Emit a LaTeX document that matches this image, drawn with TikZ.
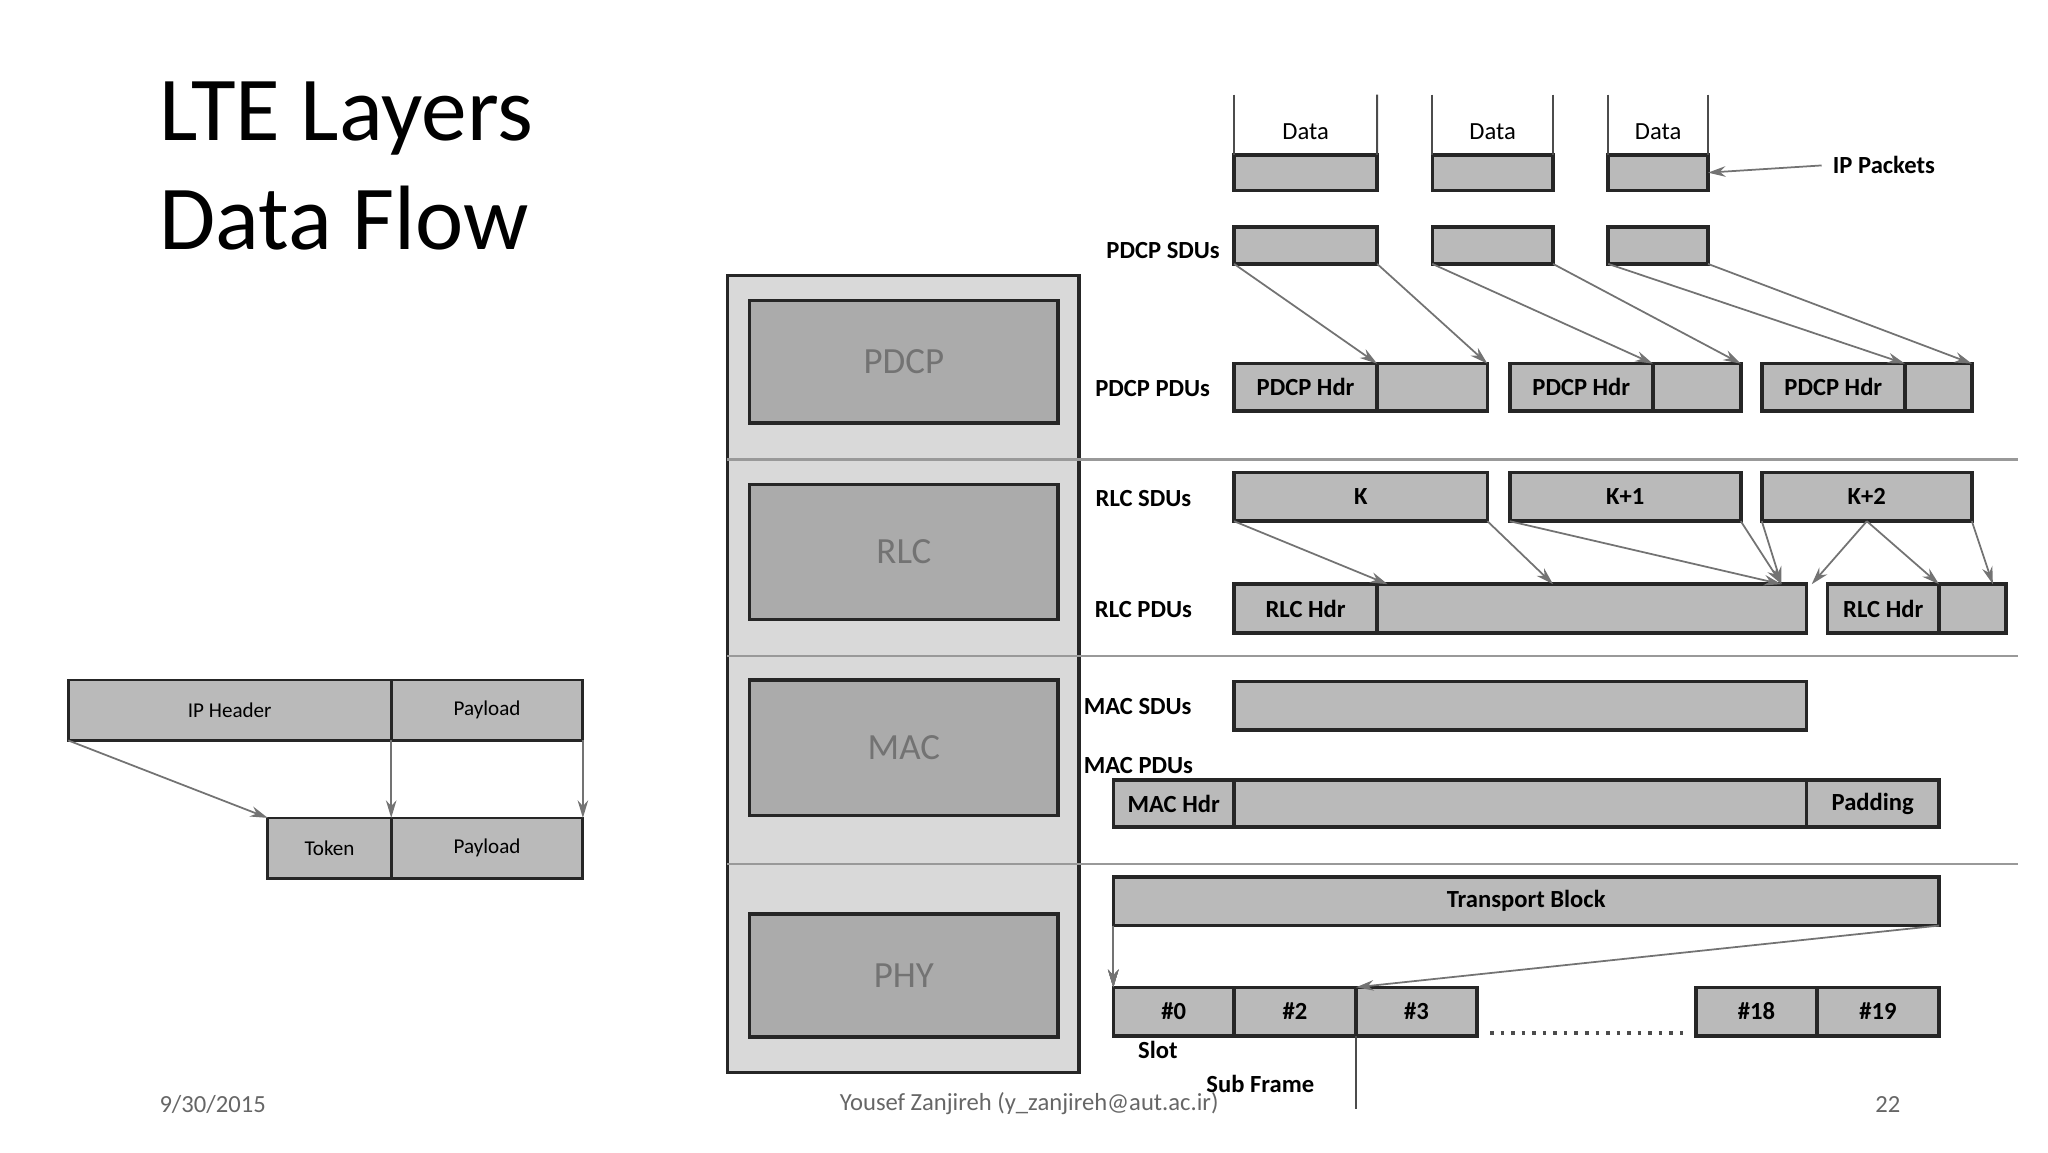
\documentclass[tikz,border=0pt]{standalone}
\usepackage{fontspec}
\setmainfont{Carlito}
\usetikzlibrary{arrows.meta}
\newcommand\un{0.013128cm}
\tikzset{
 box/.style={draw=black!85,line width=1pt,fill=black!27,inner sep=0pt,outer sep=0pt,anchor=north west,font=\fontsize{7}{8}\selectfont\bfseries},
 layer/.style={box,fill=black!33,font=\fontsize{10.5}{12}\selectfont,text=black!55},
 flow/.style={-{Stealth[length=5pt,width=3pt]},draw=black!55,line width=0.5pt},
 tie/.style={draw=black!70,line width=0.6pt},
 lbl/.style={font=\fontsize{7}{8}\selectfont\bfseries,inner sep=0pt},
 foot/.style={font=\fontsize{7}{8}\selectfont,text=black!60,inner sep=0pt},
}
% named block: name, x1, y1, x2, y2, text
\newcommand\blk[6]{\node[box,minimum width={(#4-#2)*\un},minimum height={(#5-#3)*\un}] (#1) at (#2,#3) {#6};}
\begin{document}
\begin{tikzpicture}[x=\un,y=-\un]
\useasboundingbox (0,0) rectangle (1560,877.5);

\node[anchor=north west,inner sep=0pt,align=left,font=\fontsize{26}{31}\selectfont] (title) at (121,62) {LTE Layers\\Data Flow};

% left: token
\begin{scope}[box/.append style={line width=0.8pt,font=\fontsize{6}{7}\selectfont}]
\blk{iphdr}{52}{518}{298}{564}{IP Header}
\blk{pay}{298}{518}{444}{564}{Payload}
\blk{tok}{204}{623}{298}{669}{Token}
\blk{paytwo}{298}{623}{444}{669}{Payload}
\end{scope}
\draw[flow] (iphdr.south west) -- (tok.north west);
\draw[flow] (pay.south west) -- (paytwo.north west);
\draw[flow] (pay.south east) -- (paytwo.north east);

% layer stack
\node[box,fill=black!15,minimum width={268*\un},minimum height={607*\un}] (stack) at (554,210) {};
\foreach \N/\Y/\H in {PDCP/229/93,RLC/369/103,MAC/518/103,PHY/696/94}
 \node[layer,minimum width={235*\un},minimum height={\H*\un}] (\N) at (571,\Y) {\N};
\foreach \Y in {350,500,658}
 \draw[draw=black!40,line width=0.6pt] (554,\Y) -- (1537,\Y);

% IP packets and PDCP SDUs
\foreach \I/\A/\B in {1/940/1049,2/1091/1183,3/1225/1301}{
 \blk{ip\I}{\A}{118}{\B}{145}{}
 \blk{sdu\I}{\A}{173}{\B}{201}{}
 \draw[tie] (\A,72) -- (ip\I.north west);
 \draw[tie] (\B,72) -- (ip\I.north east);
 \node[lbl,font=\fontsize{7}{8}\selectfont] (data\I) at ({(\A+\B)/2},100) {Data};
}
\node[lbl] (ippk) at (1435,126) {IP Packets};
\draw[flow] (ippk.west) ++(-8,0) -- (ip3.east);
\node[lbl] (pdcpsdu) at (886,191) {PDCP SDUs};

% PDCP PDUs
\node[lbl] (pdcppdu) at (878,296) {PDCP PDUs};
\foreach \I/\A/\H/\B in {1/940/1049/1133,2/1150/1259/1326,3/1342/1451/1502}{
 \blk{ph\I}{\A}{277}{\H}{313}{PDCP Hdr}
 \blk{pd\I}{\H}{277}{\B}{313}{}
}
\foreach \I in {1,2,3}{
 \draw[flow] (sdu\I.south west) -- (pd\I.north west);
 \draw[flow] (sdu\I.south east) -- (pd\I.north east);
}

% RLC SDUs
\node[lbl] (rlcsdu) at (871,380) {RLC SDUs};
\blk{k0}{940}{360}{1133}{397}{K}
\blk{k1}{1150}{360}{1326}{397}{K+1}
\blk{k2}{1342}{360}{1502}{397}{K+2}

% RLC PDUs
\node[lbl] (rlcpdu) at (871,464) {RLC PDUs};
\blk{rh1}{940}{445}{1049}{482}{RLC Hdr}
\blk{rd1}{1049}{445}{1376}{482}{}
\blk{rh2}{1392}{445}{1477}{482}{RLC Hdr}
\blk{rd2}{1477}{445}{1528}{482}{}
\coordinate (a1) at (1057,445);
\coordinate (a2) at (1183,445);
\coordinate (a3) at (1357,445);
\coordinate (a4) at (1380,445);
\coordinate (a5) at (1518,445);
\draw[flow] (k0.south west) -- (a1);
\draw[flow] (k0.south east) -- (a2);
\draw[flow] (k1.south west) -- (a3);
\draw[flow] (k1.south east) -- (a3);
\draw[flow] (k2.south west) -- (a3);
\draw[flow] (k2.south) -- (a4);
\draw[flow] (k2.south) -- (rh2.north east);
\draw[flow] (k2.south east) -- (a5);

% MAC
\node[lbl,anchor=west] (macsdu) at (825,538) {MAC SDUs};
\blk{msdu}{940}{519}{1376}{556}{}
\node[lbl,anchor=west] (macpdu) at (825,583) {MAC PDUs};
\blk{mh}{848}{594}{940}{630}{MAC Hdr}
\blk{md}{940}{594}{1376}{630}{}
\blk{pad}{1376}{594}{1477}{630}{Padding}

% PHY
\blk{tb}{848}{668}{1477}{705}{Transport Block}
\foreach \I/\A/\B/\T in {0/848/940/\#0,2/940/1033/\#2,3/1033/1125/\#3,18/1292/1384/\#18,19/1384/1477/\#19}
 \blk{s\I}{\A}{752}{\B}{789}{\T}
\draw[flow] (tb.south west) -- (s0.north west);
\draw[flow] (tb.south east) -- (s3.north west);
\draw[black!70,line width=1pt,dotted] (1135,787) -- (1283,787);
\node[lbl] (slot) at (882,800) {Slot};
\node[lbl] (subfr) at (960,826) {Sub Frame};
\coordinate (sfend) at (1033,845);
\draw[tie] (s3.south west) -- (sfend);

% footer
\node[foot] (date) at (162,841) {9/30/2015};
\node[foot] (auth) at (784,841) {Yousef Zanjireh (y\_zanjireh@aut.ac.ir)};
\node[foot] (page) at (1438,841) {22};
\end{tikzpicture}
\end{document}
